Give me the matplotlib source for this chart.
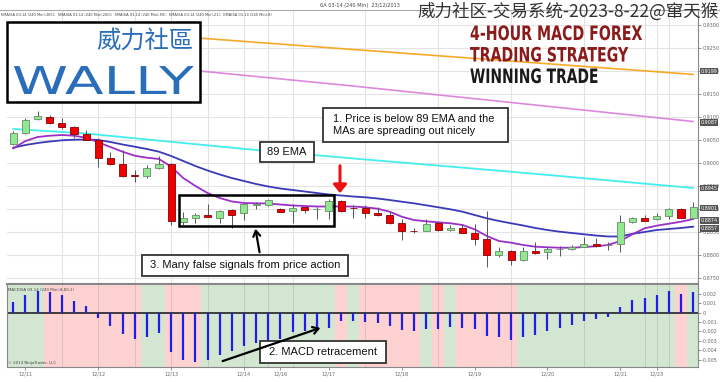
import matplotlib
matplotlib.use('Agg')
import matplotlib.pyplot as plt
from matplotlib import patheffects
from matplotlib.patches import Rectangle, FancyArrowPatch
from matplotlib.transforms import Affine2D

# ---- data (6A 03-14, 240 min bars) ----
opens = [0.90413, 0.90646, 0.90944, 0.91000, 0.90857, 0.90776, 0.90617, 0.90487, 0.90096, 0.89972,
         0.89733, 0.89717, 0.89878, 0.89972, 0.88704, 0.88804, 0.88863, 0.88804, 0.88978, 0.88900,
         0.89080, 0.89080, 0.89000, 0.88950, 0.89030, 0.88983, 0.88950, 0.89161, 0.89011, 0.89009,
         0.88913, 0.88870, 0.88683, 0.88524, 0.88522, 0.88696, 0.88537, 0.88587, 0.88478, 0.88348,
         0.87987, 0.88080, 0.87885, 0.88080, 0.88052, 0.88122, 0.88124, 0.88174, 0.88239, 0.88209,
         0.88226, 0.88717, 0.88804, 0.88770, 0.88848, 0.88994, 0.88804]
highs = [0.90689, 0.90965, 0.91124, 0.91037, 0.90965, 0.90804, 0.90711, 0.90537, 0.90239, 0.90276,
         0.89835, 0.89950, 0.90146, 0.89994, 0.88935, 0.88907, 0.89102, 0.88961, 0.88994, 0.89113,
         0.89146, 0.89204, 0.89015, 0.89096, 0.89037, 0.89030, 0.89204, 0.89200, 0.89080, 0.89080,
         0.89044, 0.88928, 0.88770, 0.88574, 0.88770, 0.88711, 0.88639, 0.88661, 0.88667, 0.88957,
         0.88174, 0.88102, 0.88174, 0.88283, 0.88174, 0.88189, 0.88211, 0.88385, 0.88370, 0.88283,
         0.88863, 0.88820, 0.88857, 0.88900, 0.89005, 0.89005, 0.89152]
lows = [0.90385, 0.90624, 0.90928, 0.90841, 0.90733, 0.90544, 0.90494, 0.89913, 0.89950, 0.89700,
        0.89587, 0.89661, 0.89874, 0.88646, 0.88646, 0.88696, 0.88820, 0.88683, 0.88574, 0.88754,
        0.88994, 0.89059, 0.88922, 0.88683, 0.88900, 0.88776, 0.88770, 0.88922, 0.88791, 0.88791,
        0.88841, 0.88667, 0.88320, 0.88472, 0.88515, 0.88526, 0.88509, 0.88472, 0.88211, 0.87726,
        0.87950, 0.87776, 0.87863, 0.88026, 0.87907, 0.87978, 0.88102, 0.88167, 0.88167, 0.88102,
        0.88065, 0.88683, 0.88733, 0.88765, 0.88776, 0.88798, 0.88798]
closes = [0.90646, 0.90935, 0.91015, 0.90863, 0.90776, 0.90630, 0.90500, 0.90096, 0.89972, 0.89711,
          0.89717, 0.89885, 0.89965, 0.88739, 0.88791, 0.88870, 0.88826, 0.88957, 0.88870, 0.89102,
          0.89102, 0.89183, 0.88935, 0.89015, 0.88972, 0.88989, 0.89161, 0.88950, 0.89007, 0.88900,
          0.88870, 0.88683, 0.88522, 0.88520, 0.88667, 0.88537, 0.88587, 0.88478, 0.88348, 0.88000,
          0.88080, 0.87885, 0.88080, 0.88037, 0.88117, 0.88126, 0.88167, 0.88239, 0.88189, 0.88213,
          0.88717, 0.88804, 0.88739, 0.88848, 0.88994, 0.88804, 0.89044]

ema8 = [0.90313, 0.90472, 0.90559, 0.90587, 0.90602, 0.90587, 0.90544, 0.90444, 0.90341, 0.90239,
        0.90152, 0.90109, 0.90081, 0.89913, 0.89667, 0.89494, 0.89341, 0.89233, 0.89157, 0.89124,
        0.89117, 0.89113, 0.89091, 0.89070, 0.89059, 0.89048, 0.89048, 0.89048, 0.89048, 0.89031,
        0.89000, 0.88935, 0.88826, 0.88754, 0.88726, 0.88704, 0.88683, 0.88646, 0.88552, 0.88407,
        0.88298, 0.88261, 0.88211, 0.88174, 0.88161, 0.88152, 0.88152, 0.88167, 0.88183, 0.88211,
        0.88298, 0.88444, 0.88574, 0.88631, 0.88674, 0.88717, 0.88776]
ema21 = [0.90326, 0.90385, 0.90428, 0.90461, 0.90487, 0.90500, 0.90504, 0.90494, 0.90450, 0.90396,
         0.90348, 0.90298, 0.90239, 0.90146, 0.90037, 0.89928, 0.89831, 0.89744, 0.89667, 0.89602,
         0.89537, 0.89483, 0.89439, 0.89407, 0.89374, 0.89341, 0.89309, 0.89287, 0.89265, 0.89248,
         0.89222, 0.89189, 0.89152, 0.89117, 0.89074, 0.89031, 0.88987, 0.88935, 0.88863, 0.88791,
         0.88733, 0.88683, 0.88635, 0.88581, 0.88537, 0.88500, 0.88472, 0.88444, 0.88417, 0.88396,
         0.88396, 0.88454, 0.88494, 0.88537, 0.88559, 0.88581, 0.88609]
# slow averages, read at a few bars
ema89_idx = [0, 6, 14, 20, 29, 41, 45, 56]
ema89_val = [0.90733, 0.90635, 0.90428, 0.90276, 0.90070, 0.89804, 0.89711, 0.89450]
sma200_idx = [0, 28, 56]
sma200_val = [0.92391, 0.91667, 0.90896]
ema365_idx = [0, 28, 56]
ema365_val = [0.93010, 0.92461, 0.91920]
last_values = [0.9199, 0.9087, 0.8945, 0.8901, 0.8874, 0.8857]

macd = [0.00117, 0.00188, 0.0023, 0.0022, 0.00184, 0.00128, 0.00067, -0.00053, -0.00142, -0.0023,
        -0.0028, -0.00255, -0.00216, -0.00415, -0.00504, -0.00521, -0.00504, -0.0045, -0.00404, -0.00351,
        -0.00326, -0.00309, -0.00277, -0.00202, -0.00195, -0.00174, -0.0016, -0.00092, -0.00092, -0.00096,
        -0.00106, -0.00138, -0.00181, -0.00199, -0.0017, -0.00174, -0.00156, -0.0016, -0.00177, -0.00248,
        -0.00262, -0.00291, -0.00262, -0.00241, -0.00199, -0.00167, -0.00128, -0.00085, -0.00067, -0.0005,
        0.00064, 0.00135, 0.0016, 0.00188, 0.00227, 0.00202, 0.0022]
shade = "ggg" + "rrrrrrrr" + "gg" + "rrr" + "ggggggggggg" + "r" + "g" + "rrrrr" + "g" + "r" + "g" + "rrrrr" + "ggggggggggggg" + "r" + "g"

date_idx = [1, 7, 13, 19, 22, 26, 32, 38, 44, 50, 53]
date_lbl = ['12/11', '12/12', '12/13', '12/14', '12/16', '12/17', '12/18', '12/19', '12/20', '12/21', '12/23']
grid_idx = [4, 7, 10, 13, 16, 19, 21, 23, 29, 35, 41, 47, 52, 53, 54]
price_ticks = [0.8750, 0.8800, 0.8850, 0.8900, 0.8950, 0.9000, 0.9050, 0.9100, 0.9150, 0.9200, 0.9250, 0.9300]
macd_ticks = [0.002, 0.001, 0, -0.001, -0.002, -0.003, -0.004, -0.005]


class Stretch(patheffects.AbstractPathEffect):
    # squeeze / widen a text horizontally around its left edge
    def __init__(self, sx, x0):
        super().__init__()
        self.sx = sx
        self.x0 = x0

    def draw_path(self, renderer, gc, tpath, affine, rgbFace=None):
        a = affine + Affine2D().translate(-self.x0, 0).scale(self.sx, 1).translate(self.x0, 0)
        renderer.draw_path(gc, tpath, a, rgbFace)


W, H = 720, 382
fig = plt.figure(figsize=(W / 100, H / 100), dpi=100)
# pixel coordinates, y pointing down
T = Affine2D().scale(1 / W, -1 / H).translate(0, 1) + fig.transFigure

ax = fig.add_axes([7 / W, 1 - 284 / H, 691 / W, 274 / H])
ax2 = fig.add_axes([7 / W, 1 - 367 / H, 691 / W, 83 / H], sharex=ax)

n = len(closes)
xs = list(range(n))

# price panel
for x in grid_idx:
    ax.axvline(x, color='#e2e2e2', lw=0.8, zorder=0)
    ax2.axvline(x, color='#aaaaaa', lw=0.6, zorder=1, alpha=0.5)
for p in price_ticks:
    ax.axhline(p, color='#e4e4e4', lw=0.8, zorder=0)

ax.plot(ema365_idx, ema365_val, color='#f7a928', lw=1.2, zorder=2)
ax.plot(sma200_idx, sma200_val, color='#dd88dd', lw=1.2, zorder=2)
ax.plot(ema89_idx, ema89_val, color='#44eeee', lw=1.3, zorder=2)
ax.plot(xs, ema21, color='#3a3ab8', lw=1.3, zorder=3)
ax.plot(xs, ema8, color='#9b30c8', lw=1.3, zorder=3)

bw = 0.58
for i in range(n):
    o, h, l, c = opens[i], highs[i], lows[i], closes[i]
    ax.vlines(i, l, h, color='#555555', lw=0.7, zorder=4)
    up = c >= o
    face = '#90e890' if up else '#ee0000'
    edge = '#6a8a6a' if up else '#880000'
    ht = max(abs(c - o), 0.00004)
    ax.add_patch(Rectangle((i - bw / 2, min(o, c)), bw, ht, facecolor=face,
                           edgecolor=edge, lw=0.6, zorder=5))

ax.set_xlim(-0.52, 56.4)
ax.set_ylim(0.87363, 0.93320)
ax.yaxis.tick_right()
ax.set_yticks(price_ticks)
ax.set_yticklabels([f'{p:.4f}' for p in price_ticks])
ax.tick_params(axis='y', labelsize=3.5, colors='#666666', length=2, width=0.5, pad=1)
ax.tick_params(axis='x', bottom=False, labelbottom=False)
for s in ['top', 'left', 'bottom']:
    ax.spines[s].set_visible(False)
ax.spines['right'].set_color('#888888')

for v in last_values:
    ax.text(1.004, v, f'{v:.4f}', transform=ax.get_yaxis_transform(), fontsize=3.5,
            color='white', va='center', ha='left',
            bbox=dict(boxstyle='square,pad=0.15', fc='#555555', ec='none'))

# highlighted consolidation box
ax.add_patch(Rectangle((13.65, 0.88624), 12.75, 0.00674, fill=False, ec='black', lw=1.8, zorder=6))

# MACD panel
for i, s in enumerate(shade):
    ax2.axvspan(i - 0.5, i + 0.5, color='#d2e6d2' if s == 'g' else '#ffd2d2', lw=0, zorder=0)
ax2.vlines(xs, 0, macd, color='#1e1ee6', lw=1.6, zorder=3)
ax2.axhline(0, color='#222222', lw=1.2, zorder=2)
ax2.set_ylim(-0.00578, 0.00305)
ax2.yaxis.tick_right()
ax2.set_yticks(macd_ticks)
ax2.set_yticklabels(['0.002', '0.001', '0', '-0.001', '-0.002', '-0.003', '-0.004', '-0.005'])
ax2.tick_params(axis='y', labelsize=3.5, colors='#666666', length=2, width=0.5, pad=1)
ax2.set_xticks(date_idx)
ax2.set_xticklabels(date_lbl)
ax2.tick_params(axis='x', labelsize=3.5, colors='#666666', length=2, width=0.5, pad=1)
for s in ['top', 'left', 'bottom', 'right']:
    ax2.spines[s].set_color('#888888')
ax2.spines['top'].set_linewidth(1.5)
ax2.text(0.002, 0.93, 'MACD(6A 03-14 (240 Min),8,89,1)', transform=ax2.transAxes,
         fontsize=2.8, color='#444444', va='center')
ax2.text(0.002, 0.05, '© 2014 NinjaTrader, LLC', transform=ax2.transAxes,
         fontsize=2.8, color='#444444', va='center')

# header
fig.add_artist(plt.Line2D([0, W], [10, 10], transform=T, color='#aaaaaa', lw=0.8))
fig.text(360 / W, 1 - 5 / H, '6A 03-14 (240 Min)  23/12/2013', fontsize=3.6, color='#444444',
         ha='center', va='center')
fig.text(1 / W, 1 - 15 / H,
         'EMA(6A 03-14 (240 Min),365);  SMA(6A 03-14 (240 Min),200);  SMA(6A 03-14 (240 Min),89);  '
         'EMA(6A 03-14 (240 Min),21);  EMA(6A 03-14 (240 Min),8)',
         fontsize=2.6, color='#444444', ha='left', va='center')

cjk = ['Noto Sans CJK SC', 'DejaVu Sans']
fig.text(719 / W, 1 - 12 / H, '威力社区-交易系统-2023-8-22@窜天猴', family=cjk, fontsize=12.6,
         color='#333333', ha='right', va='center')

# condensed headline and wide logo word, as real text squeezed to the reference widths
fitted = []
fitted.append((fig.text(470 / W, 1 - 40 / H, '4-HOUR MACD FOREX', fontsize=14.3, weight='bold',
                        color='#8b1a1a', ha='left', va='baseline'), 173))
fitted.append((fig.text(470 / W, 1 - 61.5 / H, 'TRADING STRATEGY', fontsize=14.3, weight='bold',
                        color='#8b1a1a', ha='left', va='baseline'), 159))
fitted.append((fig.text(470 / W, 1 - 83 / H, 'WINNING TRADE', fontsize=14.3, weight='bold',
                        color='#1a1a1a', ha='left', va='baseline'), 129))

# logo
fig.add_artist(Rectangle((7, 22), 193, 80, transform=T, facecolor='white', edgecolor='black',
                         lw=1.8, zorder=10))
fig.text(193 / W, 1 - 41 / H, '威力社區', family=['Noto Sans CJK TC', 'DejaVu Sans'], weight='light',
         fontsize=17.5, color='#2a6ebb', ha='right', va='center', zorder=11)
fitted.append((fig.text(12 / W, 1 - 94 / H, 'WALLY', fontsize=27.6, color='#2a6ebb',
                        ha='left', va='baseline', zorder=11), 182))

fig.canvas.draw()
rend = fig.canvas.get_renderer()
for t, target in fitted:
    bb = t.get_window_extent(rend)
    t.set_path_effects([Stretch(target / bb.width, bb.x0)])


# annotation boxes
def note(x0, y0, x1, y1, txt, left=None):
    fig.add_artist(Rectangle((x0, y0), x1 - x0, y1 - y0, transform=T, facecolor='white',
                             edgecolor='#333333', lw=1.3, zorder=10))
    if left is None:
        fig.text((x0 + x1) / 2 / W, 1 - (y0 + y1) / 2 / H, txt, fontsize=8, family='Liberation Sans',
                 ha='center', va='center', zorder=11, color='#111111')
    else:
        fig.text(left / W, 1 - (y0 + y1) / 2 / H, txt, fontsize=7.9, family='Liberation Sans',
                 ha='left', va='center', zorder=11, color='#111111', linespacing=1.3)


note(323, 108, 508, 142, '1. Price is below 89 EMA and the\nMAs are spreading out nicely', left=333)
note(260, 142, 314, 162, '89 EMA')
note(142, 255, 348, 276, '3. Many false signals from price action')
note(260, 341, 386, 363, '2. MACD retracement')

fig.add_artist(FancyArrowPatch((340, 163), (340, 196), transform=T, arrowstyle='-|>,head_width=4,head_length=5',
                               color='#ee1111', lw=2.2, zorder=12))
fig.add_artist(FancyArrowPatch((260, 255), (255, 226), transform=T, arrowstyle='->,head_width=2.5,head_length=4',
                               color='black', lw=1.6, zorder=12))
fig.add_artist(FancyArrowPatch((220, 362), (323, 327), transform=T, arrowstyle='->,head_width=2.5,head_length=4',
                               color='black', lw=1.6, zorder=12))

fig.savefig('out.png', dpi=100)
